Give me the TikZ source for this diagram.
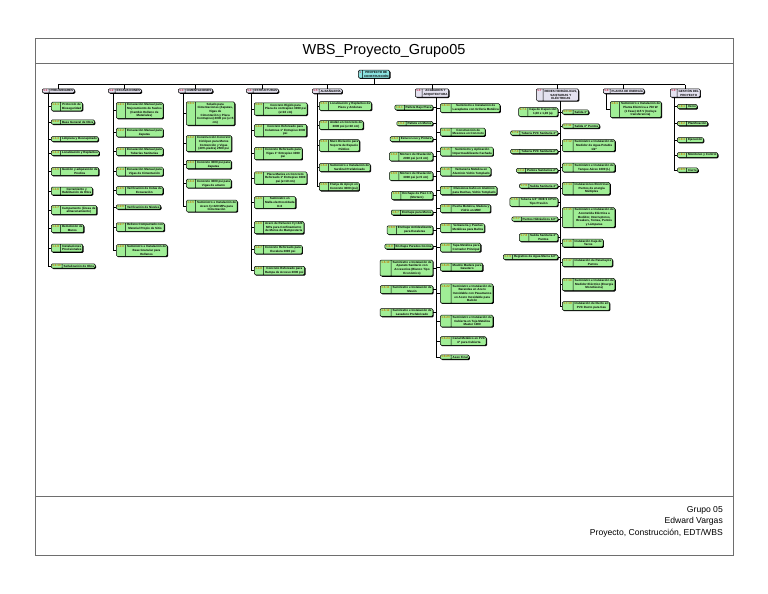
\documentclass[tikz,border=0pt]{standalone}
\usepackage{fontspec}
\setsansfont{Liberation Sans}
\usetikzlibrary{shapes.multipart,shadows}
\definecolor{taskgreen}{RGB}{160,238,150}
\definecolor{phaselav}{RGB}{228,226,240}
\definecolor{rootcyan}{RGB}{140,228,226}
\definecolor{codeorange}{RGB}{196,120,0}
\definecolor{codered}{RGB}{200,40,70}
\definecolor{framegray}{RGB}{110,110,110}
\tikzset{
  wbsbox/.style={rectangle split, rectangle split horizontal, rectangle split parts=2,
    rectangle split part align={top}, draw, line width=0.5pt, rounded corners=1.2pt,
    align=center, inner xsep=1.2pt, inner ysep=1pt,
    font=\sffamily\bfseries\fontsize{3}{3.7}\selectfont,
    drop shadow={shadow xshift=0.9pt, shadow yshift=-0.9pt, fill=black, opacity=1}},
  task/.style={wbsbox, fill=taskgreen},
  phase/.style={wbsbox, fill=phaselav, anchor=north west},
  rootbox/.style={wbsbox, fill=rootcyan, anchor=north},
  link/.style={line width=0.6pt},
  frameline/.style={draw=framegray, line width=0.9pt}
}
\newcommand{\tc}[1]{\textcolor{codeorange}{#1}}
\newcommand{\pc}[1]{\textcolor{codered}{#1}}
\begin{document}
\begin{tikzpicture}[x=1pt,y=-1pt]
\useasboundingbox (0,0) rectangle (768,594);
\fill[white] (0,0) rectangle (768,594);

% frame, title and footer
\draw[frameline] (35,38) rectangle (733,555);
\draw[frameline] (35,63) -- (733,63);
\draw[frameline] (35,496) -- (733,496);
\node[font=\sffamily\fontsize{14.5}{16}\selectfont] (title) at (384,50.5) {WBS\_Proyecto\_Grupo05};
\node[anchor=north east, align=right, font=\sffamily\fontsize{8.6}{11.5}\selectfont, inner sep=0pt] (footer) at (723,506)
  {Grupo 05\\Edward Vargas\\Proyecto, Construcción, EDT/WBS};

% root and phases
\node[rootbox] (root) at (374,70) {\pc{1}\nodepart{two}PROYECTO DE\\CONSTRUCCIÓN};
\node[phase] (p11) at (42,88.5) {\pc{1.1}\nodepart{two}PRELIMINARES};
\node[phase] (p12) at (108,88.5) {\pc{1.2}\nodepart{two}EXCAVACIONES};
\node[phase] (p13) at (178,88.5) {\pc{1.3}\nodepart{two}CIMENTACIONES};
\node[phase] (p14) at (246,88.5) {\pc{1.4}\nodepart{two}ESTRUCTURAS};
\node[phase] (p15) at (312,88.5) {\pc{1.5}\nodepart{two}ALBAÑILERÍA};
\node[phase] (p16) at (415,88.5) {\pc{1.6}\nodepart{two}ACABADOS Y\\ARQUITECTURA};
\node[phase] (p17) at (536,88.5) {\pc{1.7}\nodepart{two}REDES HIDRÁULICAS,\\SANITARIAS Y\\ELÉCTRICAS};
\node[phase] (p18) at (603,88.5) {\pc{1.8}\nodepart{two}PLANTA DE ENERGÍA};
\node[phase] (p19) at (670,88.5) {\pc{1.9}\nodepart{two}GESTIÓN DEL\\PROYECTO};

\coordinate (bar) at (0,84.5);
\draw[link] (root.south) -- (root.south |- bar);
\draw[link] (p11.north |- bar) -- (p19.north |- bar);
\foreach \p in {p11,p12,p13,p14,p15,p16,p17,p18,p19}
  \draw[link] (\p.north |- bar) -- (\p.north);

% 1.1
\node[task, anchor=west] (c111) at (51,106.5) {\tc{1.1.1}\nodepart{two}Protocolo de\\Bioseguridad};
\node[task, anchor=west] (c112) at (51,122) {\tc{1.1.2}\nodepart{two}Base General de Obra};
\node[task, anchor=west] (c113) at (51,139) {\tc{1.1.3}\nodepart{two}Limpieza y Descapotado};
\node[task, anchor=west] (c114) at (51,153) {\tc{1.1.4}\nodepart{two}Localización y Replanteo};
\node[task, anchor=west] (c115) at (51,171.5) {\tc{1.1.5}\nodepart{two}Gestión y adquisición de\\Predios};
\node[task, anchor=west] (c116) at (51,191) {\tc{1.1.6}\nodepart{two}Cerramiento y\\Habilitación de Obra};
\node[task, anchor=west] (c117) at (51,210) {\tc{1.1.7}\nodepart{two}Campamento (Áreas de\\almacenamiento)};
\node[task, anchor=west] (c118) at (51,228.5) {\tc{1.1.8}\nodepart{two}Demolición de\\Muros};
\node[task, anchor=west] (c119) at (51,248) {\tc{1.1.9}\nodepart{two}Instalaciones\\Provisionales};
\node[task, anchor=west] (c1110) at (51,266) {\tc{1.1.10}\nodepart{two}Señalización de Obra};
\coordinate (t11) at (48,0);
\foreach \c in {c111,c112,c113,c114,c115,c116,c117,c118,c119,c1110}
  \draw[link] (p11.south -| t11) |- (\c.west);

% 1.2
\node[task, anchor=west] (c121) at (116,110.5) {\tc{1.2.1}\nodepart{two}Excavación Manual para\\Mejoramiento de Suelos\\(Cambio Relleno de\\Materiales)};
\node[task, anchor=west] (c122) at (116,132.5) {\tc{1.2.2}\nodepart{two}Excavación Manual para\\Zapatas};
\node[task, anchor=west] (c123) at (116,151.5) {\tc{1.2.3}\nodepart{two}Excavación Manual para\\Tuberías Sanitarias};
\node[task, anchor=west] (c124) at (116,171.5) {\tc{1.2.4}\nodepart{two}Excavación Manual para\\Vigas de Cimentación};
\node[task, anchor=west] (c125) at (116,190.5) {\tc{1.2.5}\nodepart{two}Verificación de Cotas de\\Excavación};
\node[task, anchor=west] (c126) at (116,207) {\tc{1.2.6}\nodepart{two}Verificación de Niveles};
\node[task, anchor=west] (c127) at (116,227) {\tc{1.2.7}\nodepart{two}Relleno Compactado con\\Material Propio de Sitio};
\node[task, anchor=west] (c128) at (116,250.5) {\tc{1.2.8}\nodepart{two}Suministro e Instalación de\\Base Granular para\\Rellenos};
\coordinate (t12) at (113,0);
\foreach \c in {c121,c122,c123,c124,c125,c126,c127,c128}
  \draw[link] (p12.south -| t12) |- (\c.west);

% 1.3
\node[task, anchor=west] (c131) at (186,113.5) {\tc{1.3.1}\nodepart{two}Solado para\\Cimentaciones (Zapatas,\\Vigas de\\Cimentación y Placa\\Contrapiso) 2000 psi (e=5\\cm)};
\node[task, anchor=west] (c132) at (186,143.5) {\tc{1.3.2}\nodepart{two}Construcción Concreto\\Ciclópeo para Muros\\Contención y Vigas\\(40\% piedra) 2500 psi};
\node[task, anchor=west] (c133) at (186,164.5) {\tc{1.3.3}\nodepart{two}Concreto 3000 psi para\\Zapatas};
\node[task, anchor=west] (c134) at (186,183.5) {\tc{1.3.4}\nodepart{two}Concreto 3000 psi para\\Vigas de amarre};
\node[task, anchor=west] (c135) at (186,206) {\tc{1.3.5}\nodepart{two}Suministro e Instalación de\\Acero fy=420 MPa para\\Cimentación};
\coordinate (t13) at (183,0);
\foreach \c in {c131,c132,c133,c134,c135}
  \draw[link] (p13.south -| t13) |- (\c.west);

% 1.4
\node[task, anchor=west] (c141) at (254,109) {\tc{1.4.1}\nodepart{two}Concreto Rígido para\\Placa de contrapiso 3000 psi\\(e=10 cm)};
\node[task, anchor=west] (c142) at (254,130.5) {\tc{1.4.2}\nodepart{two}Concreto Reforzado para\\Columnas 1° Entrepiso 3000\\psi};
\node[task, anchor=west] (c143) at (254,153.5) {\tc{1.4.3}\nodepart{two}Concreto Reforzado para\\Vigas 1° Entrepiso 3000\\psi};
\node[task, anchor=west] (c144) at (254,178) {\tc{1.4.4}\nodepart{two}Placa Maciza en Concreto\\Reforzado 1° Entrepiso 3000\\psi (e=10 cm)};
\node[task, anchor=west] (c145) at (254,202.5) {\tc{1.4.5}\nodepart{two}Suministro en\\Malla electrosoldada\\D-6};
\node[task, anchor=west] (c146) at (254,227.5) {\tc{1.4.6}\nodepart{two}Acero de Refuerzo Fy=420\\MPa para Confinamiento\\de Muros de Mampostería};
\node[task, anchor=west] (c147) at (254,249.5) {\tc{1.4.7}\nodepart{two}Concreto Reforzado para\\Escalera 3000 psi};
\node[task, anchor=west] (c148) at (254,270.5) {\tc{1.4.8}\nodepart{two}Concreto Reforzado para\\Rampa de Acceso 3000 psi};
\coordinate (t14) at (251,0);
\foreach \c in {c141,c142,c143,c144,c145,c146,c147,c148}
  \draw[link] (p14.south -| t14) |- (\c.west);

% 1.5
\node[task, anchor=west] (c151) at (319,106) {\tc{1.5.1}\nodepart{two}Localización y Replanteo de\\Pisos y Andenes};
\node[task, anchor=west] (c152) at (319,125) {\tc{1.5.2}\nodepart{two}Andén en Concreto de\\3000 psi (e=10 cm)};
\node[task, anchor=west] (c153) at (319,145.5) {\tc{1.5.3}\nodepart{two}Muro Divisorio para\\Soporte de Espacio\\Público};
\node[task, anchor=west] (c154) at (319,167.5) {\tc{1.5.4}\nodepart{two}Suministro e Instalación de\\Sardinel Prefabricado};
\node[task, anchor=west] (c155) at (319,186.5) {\tc{1.5.5}\nodepart{two}Franja de Apoyo en\\Concreto 3000 (psi)};
\coordinate (t15) at (317,0);
\foreach \c in {c151,c152,c153,c154,c155}
  \draw[link] (p15.south -| t15) |- (\c.west);

% 1.6, left side
\node[task, anchor=east] (c161) at (433,107.5) {\tc{1.6.1}\nodepart{two}Pañete Bajo Placa};
\node[task, anchor=east] (c162) at (433,123.5) {\tc{1.6.2}\nodepart{two}Pañete en Muros};
\node[task, anchor=east] (c163) at (433,139) {\tc{1.6.3}\nodepart{two}Estuco Liso y Pintura};
\node[task, anchor=east] (c164) at (433,156.5) {\tc{1.6.4}\nodepart{two}Mortero de Nivelación\\2000 psi (e=3 cm)};
\node[task, anchor=east] (c165) at (433,176) {\tc{1.6.5}\nodepart{two}Mortero de Nivelación\\3000 psi (e=5 cm)};
\node[task, anchor=east] (c166) at (433,195.5) {\tc{1.6.6}\nodepart{two}Enchape de Piso 1:4\\(Mortero)};
\node[task, anchor=east] (c167) at (433,212.5) {\tc{1.6.7}\nodepart{two}Enchape para Muros};
\node[task, anchor=east] (c168) at (433,230) {\tc{1.6.8}\nodepart{two}Enchape Antideslizante\\para Escaleras};
\node[task, anchor=east] (c169) at (433,246.5) {\tc{1.6.9}\nodepart{two}Enchape Paredes Cocina};
\node[task, anchor=east] (c1610) at (433,268) {\tc{1.6.10}\nodepart{two}Suministro e Instalación de\\Aparato Sanitario con\\Accesorios (Blanco Tipo\\Económico)};
\node[task, anchor=east] (c1611) at (433,289.5) {\tc{1.6.11}\nodepart{two}Suministro e Instalación de\\Mesón};
\node[task, anchor=east] (c1612) at (433,312.5) {\tc{1.6.12}\nodepart{two}Suministro e Instalación de\\Lavadero Prefabricado};
% 1.6, right side
\node[task, anchor=west] (c1613) at (440,108) {\tc{1.6.13}\nodepart{two}Suministro e Instalación de\\Lavaplatos con Grifería Metálica};
\node[task, anchor=west] (c1614) at (440,132) {\tc{1.6.14}\nodepart{two}Construcción de\\Mesones en Concreto};
\node[task, anchor=west] (c1615) at (440,151.5) {\tc{1.6.15}\nodepart{two}Suministro y Aplicación\\Impermeabilizante Fachada};
\node[task, anchor=west] (c1616) at (440,171.5) {\tc{1.6.16}\nodepart{two}Ventanería Metálica en\\Aluminio Vidrio Templado};
\node[task, anchor=west] (c1617) at (440,190.5) {\tc{1.6.17}\nodepart{two}Divisiones baño en Aluminio\\para Duchas, Vidrio Templado};
\node[task, anchor=west] (c1618) at (440,208.5) {\tc{1.6.18}\nodepart{two}Puerta Metálica, Madera y\\Vidrio en MDF};
\node[task, anchor=west] (c1619) at (440,228) {\tc{1.6.19}\nodepart{two}Ventanería y Puertas\\Metálicas para Baños};
\node[task, anchor=west] (c1620) at (440,247.5) {\tc{1.6.20}\nodepart{two}Tapa Metálica para\\Contador Principal};
\node[task, anchor=west] (c1621) at (440,267) {\tc{1.6.21}\nodepart{two}Mueble Madera para\\Gavetero};
\node[task, anchor=west] (c1622) at (440,293.5) {\tc{1.6.22}\nodepart{two}Suministro e Instalación de\\Barandas en Acero\\Inoxidable con Pasamanos\\en Acero Inoxidable para\\Balcón};
\node[task, anchor=west] (c1623) at (440,321) {\tc{1.6.23}\nodepart{two}Suministro e Instalación de\\Cubierta en Teja Metálica\\Master 1000};
\node[task, anchor=west] (c1624) at (440,341) {\tc{1.6.24}\nodepart{two}Canal Metálico en PVC\\4'' para Cubierta};
\node[task, anchor=west] (c1625) at (440,357) {\tc{1.6.25}\nodepart{two}Aseo Final};
\coordinate (t16) at (436.5,0);
\foreach \c in {c161,c162,c163,c164,c165,c166,c167,c168,c169,c1610,c1611,c1612}
  \draw[link] (p16.south -| t16) |- (\c.east);
\foreach \c in {c1613,c1614,c1615,c1616,c1617,c1618,c1619,c1620,c1621,c1622,c1623,c1624,c1625}
  \draw[link] (p16.south -| t16) |- (\c.west);

% 1.7, left side
\node[task, anchor=east] (c171) at (558,112) {\tc{1.7.1}\nodepart{two}Caja de Inspección\\1,00 x 1,00 (a)};
\node[task, anchor=east] (c172) at (558,133) {\tc{1.7.2}\nodepart{two}Tubería PVC Sanitaria 4''};
\node[task, anchor=east] (c173) at (558,151.5) {\tc{1.7.3}\nodepart{two}Tubería PVC Sanitaria 2''};
\node[task, anchor=east] (c174) at (558,170.5) {\tc{1.7.4}\nodepart{two}Puntos Sanitarios 2''};
\node[task, anchor=east] (c175) at (558,186) {\tc{1.7.5}\nodepart{two}Salida Sanitaria 4''};
\node[task, anchor=east] (c176) at (558,202) {\tc{1.7.6}\nodepart{two}Tubería 1/2'' RDE 9 CPVC\\Tipo Presión};
\node[task, anchor=east] (c177) at (558,219) {\tc{1.7.7}\nodepart{two}Puntos Hidráulicos 1/2''};
\node[task, anchor=east] (c178) at (558,237.5) {\tc{1.7.8}\nodepart{two}Salida Sanitaria 4''\\Puntos};
\node[task, anchor=east] (c179) at (558,257) {\tc{1.7.9}\nodepart{two}Registros de Agua Marca 1/2''};
% 1.7, right side
\node[task, anchor=west] (c1710) at (562,112) {\tc{1.7.10}\nodepart{two}Salida 3''};
\node[task, anchor=west] (c1711) at (562,126) {\tc{1.7.11}\nodepart{two}Salida 4'' Puntos};
\node[task, anchor=west] (c1712) at (562,145.5) {\tc{1.7.12}\nodepart{two}Suministro e Instalación de\\Medidor de Agua Potable\\1/2''};
\node[task, anchor=west] (c1713) at (562,167.5) {\tc{1.7.13}\nodepart{two}Suministro e Instalación de\\Tanque Aéreo 1000 (L)};
\node[task, anchor=west] (c1714) at (562,188.5) {\tc{1.7.14}\nodepart{two}Instalaciones Eléctricas\\Puntos de energía\\Múltiples};
\node[task, anchor=west] (c1715) at (562,217.5) {\tc{1.7.15}\nodepart{two}Suministro e Instalación de\\Acometida Eléctrica a\\Medidor, Interruptores,\\Breakers, Tomas, Puntos\\y Lámparas};
\node[task, anchor=west] (c1716) at (562,243) {\tc{1.7.16}\nodepart{two}Instalación Caja de\\Tacos};
\node[task, anchor=west] (c1717) at (562,262.5) {\tc{1.7.17}\nodepart{two}Instalación de Pararrayos\\Puntos};
\node[task, anchor=west] (c1718) at (562,284.5) {\tc{1.7.18}\nodepart{two}Suministro e Instalación de\\Medidor Eléctrico (Energía\\Monofásica)};
\node[task, anchor=west] (c1719) at (562,306) {\tc{1.7.19}\nodepart{two}Instalación de Ducto en\\PVC Ducto para Gas};
\coordinate (t17) at (560,0);
\foreach \c in {c171,c172,c173,c174,c175,c176,c177,c178,c179}
  \draw[link] (p17.south -| t17) |- (\c.east);
\foreach \c in {c1710,c1711,c1712,c1713,c1714,c1715,c1716,c1717,c1718,c1719}
  \draw[link] (p17.south -| t17) |- (\c.west);

% 1.8
\node[task, anchor=west] (c181) at (610,109.5) {\tc{1.8.1}\nodepart{two}Suministro e Instalación de\\Planta Eléctrica a 750 W\\(1 Fase) 115 V (Incluye\\transferencia)};
\coordinate (t18) at (606,0);
\draw[link] (p18.south -| t18) |- (c181.west);

% 1.9
\node[task, anchor=west] (c191) at (677,106.5) {\tc{1.9.1}\nodepart{two}Inicio};
\node[task, anchor=west] (c192) at (677,123.5) {\tc{1.9.2}\nodepart{two}Planificación};
\node[task, anchor=west] (c193) at (677,140) {\tc{1.9.3}\nodepart{two}Ejecución};
\node[task, anchor=west] (c194) at (677,155) {\tc{1.9.4}\nodepart{two}Monitoreo y Control};
\node[task, anchor=west] (c195) at (677,170) {\tc{1.9.5}\nodepart{two}Cierre};
\coordinate (t19) at (674,0);
\foreach \c in {c191,c192,c193,c194,c195}
  \draw[link] (p19.south -| t19) |- (\c.west);
\end{tikzpicture}
\end{document}
